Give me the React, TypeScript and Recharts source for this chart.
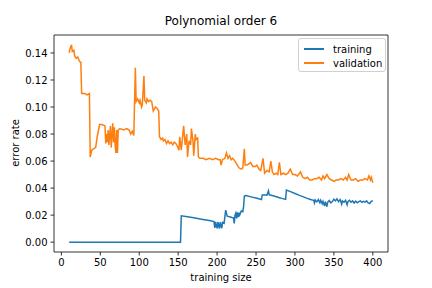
import React from 'react';
import { LineChart, Line, XAxis, YAxis, Legend, ReferenceLine } from 'recharts';

// validation error by training size
const validationSizes = [
  10, 11, 13, 14, 16, 17, 19, 21, 23, 25, 26, 30, 33, 36, 37, 39, 41, 44, 46, 49,
  52, 56, 57, 58, 59, 60, 61, 63, 64, 66, 67, 68, 69, 70, 71, 72, 73, 75, 80, 84,
  87, 89, 91, 93, 95, 96, 98, 100, 101, 103, 104, 106, 107, 109, 110, 112, 114, 116, 118, 119,
  121, 123, 125, 126, 128, 130, 131, 133, 135, 137, 139, 141, 143, 145, 147, 149, 151, 152, 154, 157,
  159, 161, 162, 164, 166, 167, 169, 170, 172, 173, 175, 176, 178, 182, 186, 190, 194, 198, 202, 204,
  205, 207, 210, 212, 214, 216, 218, 220, 223, 226, 228, 231, 233, 235, 236, 238, 241, 243, 246, 249,
  251, 254, 256, 259, 261, 264, 267, 269, 271, 273, 276, 278, 280, 282, 285, 288, 291, 294, 297, 300,
  303, 306, 307, 310, 313, 316, 319, 322, 325, 328, 331, 334, 336, 338, 341, 344, 347, 350, 353, 356,
  359, 362, 365, 367, 369, 372, 375, 378, 381, 384, 387, 390, 393, 395, 397, 398, 400,
];
const validationRate = [
  0.140, 0.143, 0.146, 0.141, 0.142, 0.138, 0.136, 0.137, 0.134, 0.133, 0.110, 0.110, 0.109, 0.110, 0.063, 0.068, 0.069, 0.070, 0.078, 0.087,
  0.087, 0.086, 0.073, 0.080, 0.074, 0.083, 0.072, 0.086, 0.070, 0.088, 0.074, 0.085, 0.072, 0.066, 0.083, 0.066, 0.083, 0.084, 0.083, 0.084,
  0.083, 0.080, 0.082, 0.079, 0.129, 0.104, 0.106, 0.103, 0.105, 0.100, 0.102, 0.123, 0.105, 0.103, 0.106, 0.104, 0.105, 0.104, 0.097, 0.098,
  0.100, 0.099, 0.097, 0.078, 0.076, 0.077, 0.075, 0.076, 0.073, 0.075, 0.073, 0.074, 0.072, 0.074, 0.073, 0.071, 0.068, 0.078, 0.068, 0.086,
  0.072, 0.080, 0.063, 0.075, 0.072, 0.084, 0.075, 0.064, 0.080, 0.076, 0.077, 0.063, 0.062, 0.062, 0.061, 0.062, 0.061, 0.062, 0.061, 0.061,
  0.057, 0.061, 0.062, 0.066, 0.062, 0.064, 0.061, 0.062, 0.060, 0.057, 0.055, 0.054, 0.055, 0.069, 0.057, 0.057, 0.058, 0.059, 0.056, 0.056,
  0.057, 0.054, 0.053, 0.062, 0.051, 0.053, 0.052, 0.060, 0.052, 0.050, 0.051, 0.050, 0.059, 0.050, 0.051, 0.050, 0.051, 0.054, 0.050, 0.050,
  0.049, 0.051, 0.052, 0.048, 0.047, 0.048, 0.046, 0.046, 0.047, 0.047, 0.048, 0.046, 0.049, 0.047, 0.050, 0.047, 0.046, 0.045, 0.046, 0.046,
  0.047, 0.046, 0.048, 0.046, 0.050, 0.046, 0.046, 0.047, 0.045, 0.046, 0.046, 0.047, 0.046, 0.049, 0.046, 0.048, 0.044,
];

// training error by training size
const trainingSizes = [
  10, 153, 154, 160, 170, 180, 190, 196, 197, 198, 200, 201, 203, 204, 206, 207, 209, 211, 213, 216,
  219, 221, 222, 223, 224, 225, 226, 227, 228, 229, 231, 233, 234, 235, 237, 245, 250, 257, 258, 262,
  264, 266, 267, 272, 279, 284, 288, 289, 295, 300, 305, 310, 315, 320, 324, 325, 326, 328, 330, 332,
  333, 335, 336, 338, 339, 341, 342, 344, 346, 348, 350, 352, 354, 356, 358, 360, 361, 363, 365, 367,
  368, 370, 372, 374, 376, 378, 380, 382, 384, 386, 388, 390, 392, 394, 396, 398, 400,
];
const trainingRate = [
  0, 0, 0.0195, 0.0190, 0.0180, 0.0170, 0.0160, 0.0152, 0.0105, 0.0150, 0.0102, 0.0149, 0.0100, 0.0148, 0.0103, 0.0147, 0.0140, 0.0237, 0.0192, 0.0188,
  0.0183, 0.0180, 0.0139, 0.0200, 0.0215, 0.0175, 0.0220, 0.0185, 0.0218, 0.0200, 0.0230, 0.0225, 0.0262, 0.0341, 0.0345, 0.0333, 0.0326, 0.0315, 0.0349, 0.0349,
  0.0348, 0.0380, 0.0350, 0.0343, 0.0331, 0.0322, 0.0317, 0.0386, 0.0372, 0.0360, 0.0348, 0.0337, 0.0326, 0.0316, 0.0310, 0.0290, 0.0312, 0.0298, 0.0315, 0.0292,
  0.0310, 0.0285, 0.0302, 0.0268, 0.0300, 0.0262, 0.0295, 0.0308, 0.0290, 0.0300, 0.0318, 0.0305, 0.0320, 0.0300, 0.0315, 0.0280, 0.0305, 0.0295, 0.0310, 0.0276,
  0.0300, 0.0310, 0.0295, 0.0305, 0.0290, 0.0303, 0.0292, 0.0300, 0.0305, 0.0295, 0.0302, 0.0296, 0.0305, 0.0290, 0.0286, 0.0302, 0.0306,
];

const xTicks = [0, 50, 100, 150, 200, 250, 300, 350, 400];
const yTicks = [0, 0.02, 0.04, 0.06, 0.08, 0.1, 0.12, 0.14];

const training = trainingSizes.map((size, i) => ({ size, rate: trainingRate[i] }));
const validation = validationSizes.map((size, i) => ({ size, rate: validationRate[i] }));

const FONT = 'DejaVu Sans, sans-serif';
const BLUE = '#1f77b4';
const ORANGE = '#ff7f0e';
const xDomain = [-9.5, 419.5];
const yDomain = [-0.0073, 0.1533];

const renderLegend = () => (
  <div
    style={{
      width: 88,
      height: 34,
      border: '1px solid #d0d0d0',
      borderRadius: 3,
      background: '#fff',
      fontFamily: FONT,
      fontSize: 10,
      color: '#000',
      boxSizing: 'border-box',
      paddingTop: 3,
    }}
  >
    {[
      { name: 'training', color: BLUE },
      { name: 'validation', color: ORANGE },
    ].map((item) => (
      <div key={item.name} style={{ display: 'flex', alignItems: 'center', height: 14 }}>
        <div style={{ width: 20, height: 2, background: item.color, marginLeft: 5, marginRight: 9 }} />
        <span>{item.name}</span>
      </div>
    ))}
  </div>
);

const App: React.FC = () => {
  return (
    <div style={{ position: 'absolute', left: 0, top: 0, width: 432, height: 288, background: '#fff' }}>
      <div
        style={{
          position: 'absolute',
          top: 14,
          left: 54,
          width: 334,
          textAlign: 'center',
          fontFamily: FONT,
          fontSize: 12,
          lineHeight: '14px',
          color: '#000',
        }}
      >
        Polynomial order 6
      </div>
      <LineChart width={432} height={288} margin={{ top: 35, right: 44, bottom: 6, left: 0 }}>
        <XAxis
          dataKey="size"
          type="number"
          domain={xDomain}
          ticks={xTicks}
          allowDataOverflow
          height={30}
          stroke="#000"
          strokeWidth={0.8}
          tickSize={3.5}
          tickMargin={3}
          tick={{ fontSize: 10, fill: '#000', fontFamily: FONT }}
          label={{ value: 'training size', position: 'insideBottom', offset: 1, fontSize: 10, fill: '#000', fontFamily: FONT }}
        />
        <YAxis
          type="number"
          domain={yDomain}
          ticks={yTicks}
          allowDataOverflow
          width={54}
          stroke="#000"
          strokeWidth={0.8}
          tickSize={3.5}
          tickMargin={3}
          tickFormatter={(v: number) => v.toFixed(2)}
          tick={{ fontSize: 10, fill: '#000', fontFamily: FONT }}
          label={{
            content: () => (
              <text x={15} y={143} transform="rotate(-90 15 143)" textAnchor="middle" dominantBaseline="central" fontSize={10} fill="#000" fontFamily={FONT}>
                error rate
              </text>
            ),
          }}
        />
        {/* top and right spines */}
        <ReferenceLine y={yDomain[1]} stroke="#000" strokeWidth={0.8} ifOverflow="extendDomain" />
        <ReferenceLine x={xDomain[1]} stroke="#000" strokeWidth={0.8} ifOverflow="extendDomain" />
        <Legend
          layout="vertical"
          align="center"
          verticalAlign="middle"
          content={renderLegend}
          wrapperStyle={{ left: 298, top: 38, width: 88, height: 34 }}
        />
        <Line data={training} dataKey="rate" name="training" type="linear" stroke={BLUE} strokeWidth={1.5} dot={false} isAnimationActive={false} />
        <Line data={validation} dataKey="rate" name="validation" type="linear" stroke={ORANGE} strokeWidth={1.5} dot={false} isAnimationActive={false} />
      </LineChart>
    </div>
  );
};

export default App;
